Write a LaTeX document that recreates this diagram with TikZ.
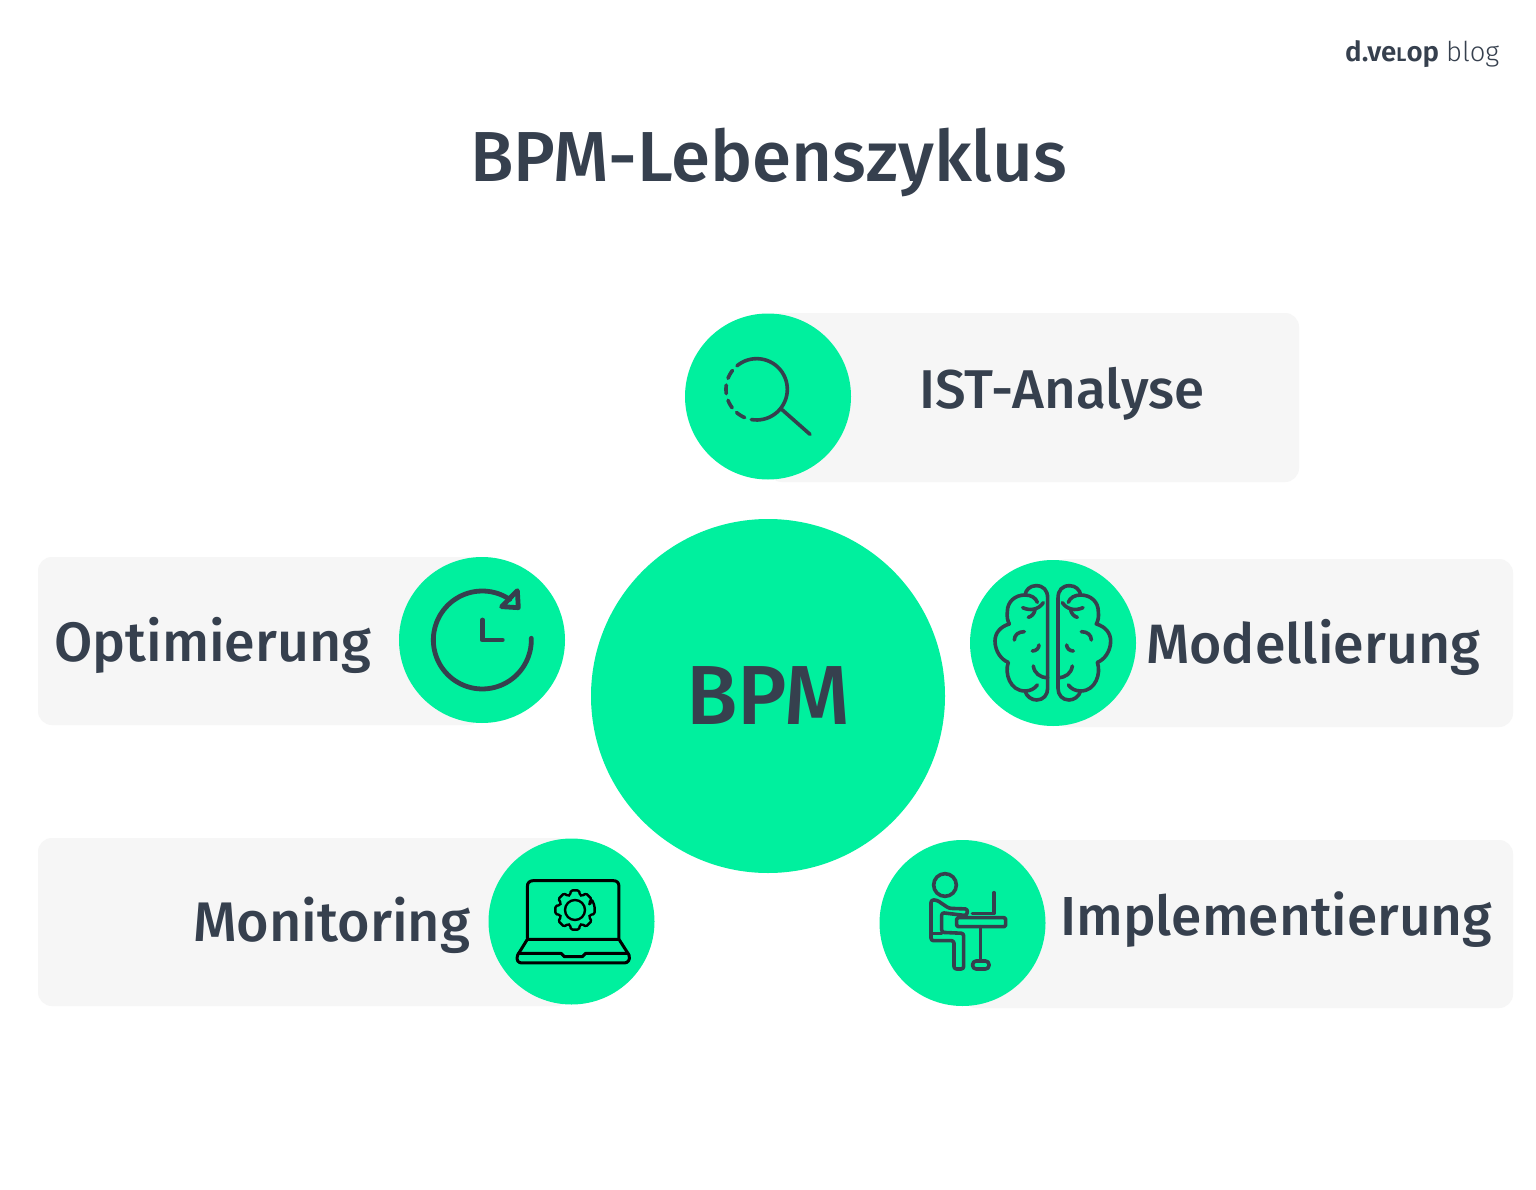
\documentclass[tikz,border=0pt]{standalone}
\usepackage{fontspec}
\setmainfont{Fira Sans Medium}
\newfontfamily\lightfont{Fira Sans Light}
\newfontfamily\boldfont{Fira Sans SemiBold}
\definecolor{mint}{HTML}{00F09E}
\definecolor{cardgray}{HTML}{F6F6F6}
\definecolor{ink}{HTML}{36404E}
\newcommand{\ftext}[3]{\resizebox{#1pt}{!}{\fontsize{#2pt}{#2pt}\selectfont #3}}
\newcommand{\iconarc}[5]{plot[domain=#4:#5,samples=40,smooth] ({#1+#3*cos(\x)},{#2+#3*sin(\x)})}
\tikzset{
  card/.style={fill=cardgray,draw=none,rounded corners=14pt},
  disc/.style={circle,fill=mint,draw=none,minimum size=166pt,inner sep=0pt},
  label/.style={anchor=base west,inner sep=0pt,text=ink},
  icon/.style={x=0.3333pt,y=-0.3333pt,draw=ink,line width=3.6pt,line cap=round,line join=round},
  iconblack/.style={x=0.3333pt,y=-0.3333pt,draw=black,line width=3pt,line cap=round,line join=round},
}
\begin{document}
\begin{tikzpicture}[x=1pt,y=-1pt]
\useasboundingbox (0,0) rectangle (1536,1190);
\fill[white] (0,0) rectangle (1536,1190);
% cards
\fill[card] (768,313) rectangle (1299,482);
\fill[card] (38,557) rectangle (482,725);
\fill[card] (1053,559) rectangle (1513,727);
\fill[card] (38,838) rectangle (571,1006);
\fill[card] (962,840) rectangle (1513,1008);
% discs
\node[circle,fill=mint,minimum size=354pt,inner sep=0pt] (bpmdisc) at (768,696) {};
\node[disc] (istdisc) at (768,396.5) {};
\node[disc] (optdisc) at (482,640) {};
\node[disc] (moddisc) at (1053,643) {};
\node[disc] (mondisc) at (571.5,921.5) {};
\node[disc] (impdisc) at (962.5,923) {};
% texts
\node[label] (title) at (470,182) {\ftext{597}{72}{BPM-Lebenszyklus}};
\node[label] (bpmtext) at (686,724) {\ftext{164}{76}{BPM}};
\node[label] (isttext) at (919,408) {\ftext{285}{52}{IST-Analyse}};
\node[label] (opttext) at (54,661) {\ftext{317}{52}{Optimierung}};
\node[label] (modtext) at (1146,663) {\ftext{334}{52}{Modellierung}};
\node[label] (montext) at (193,941) {\ftext{277}{52}{Monitoring}};
\node[label] (imptext) at (1060,935) {\ftext{432}{52}{Implementierung}};
\node[label] (logoa) at (1345,62) {\ftext{94}{28}{\boldfont d.ve{\fontsize{20pt}{20pt}\selectfont L}op}};
\node[label] (logob) at (1446,62) {\ftext{53}{28}{\lightfont blog}};
% magnifier
\begin{scope}[shift={(690,320)},icon]
\draw \iconarc{200}{208}{92}{230}{460};
\draw \iconarc{200}{208}{92}{201}{218};
\draw \iconarc{200}{208}{92}{172}{188};
\draw \iconarc{200}{208}{92}{143}{159};
\draw \iconarc{200}{208}{92}{113}{131};
\draw (275,268) -- (360,343);
\end{scope}
% clock
\begin{scope}[shift={(400,560)},icon,line width=4.8pt]
\draw \iconarc{247}{240}{147}{-2}{304};
\draw (352,92) -- (355,143) -- (305,140) -- cycle;
\draw (247,180) -- (247,240) -- (307,240);
\end{scope}
% brain
\foreach \tr in {{shift={(0,0)}},{shift={(467,0)},xscale=-1}}{
\begin{scope}[shift={(975,565)},icon]
\begin{scope}[shift={(0,0)}]
\expandafter\tikzset\expandafter{\tr}
\draw (218,100) .. controls (218,75) and (205,62) .. (183,62)
  .. controls (165,62) and (152,75) .. (150,90)
  .. controls (120,90) and (97,110) .. (97,140)
  .. controls (95,155) and (98,168) .. (103,177)
  .. controls (75,185) and (60,205) .. (60,228)
  .. controls (60,260) and (80,285) .. (100,292)
  .. controls (88,325) and (105,378) .. (150,378)
  .. controls (155,395) and (170,405) .. (185,405)
  .. controls (205,405) and (218,390) .. (218,370) -- cycle;
\draw (150,90) .. controls (168,90) and (182,98) .. (187,112);
\draw (143,128) .. controls (165,138) and (190,135) .. (205,113);
\draw (180,135) .. controls (178,145) and (170,155) .. (160,157);
\draw (118,225) .. controls (118,210) and (130,200) .. (148,200);
\draw (192,240) .. controls (192,250) and (183,258) .. (172,258);
\draw (175,303) .. controls (178,325) and (195,338) .. (218,338);
\draw (150,378) .. controls (165,378) and (178,372) .. (187,360);
\end{scope}
\end{scope}
}
% laptop
\begin{scope}[shift={(495,845)},iconblack]
\draw (97,280) -- (97,125) .. controls (97,113) and (104,107) .. (115,107) -- (355,107) .. controls (366,107) and (372,113) .. (372,125) -- (372,280);
\draw (97,283) -- (372,283) -- (402,330) .. controls (407,345) and (398,354) .. (388,354) -- (80,354) .. controls (70,354) and (62,345) .. (68,330) -- cycle;
\draw (70,325) -- (198,325) -- (208,335) -- (262,335) -- (272,325) -- (400,325);
\draw[line width=2.4pt] (240,195) circle[radius=30];
\draw[line width=2.4pt,rounded corners=1.5pt] ({240+60*cos(-33)},{195+60*sin(-33)})
  foreach \a in {0,45,...,315}{
   -- ({240+60*cos(\a-12)},{195+60*sin(\a-12)})
   -- ({240+60*cos(\a+12)},{195+60*sin(\a+12)})
   -- ({240+47*cos(\a+18)},{195+47*sin(\a+18)})
   -- ({240+47*cos(\a+27)},{195+47*sin(\a+27)})
  } -- cycle;
\end{scope}
% person
\begin{scope}[shift={(885,845)},icon]
\draw (180,120) circle[radius=34];
\draw[rounded corners=2.5pt] (245,212) -- (170,203) -- (170,262) -- (236,265) -- (236,372) -- (207,372) -- (207,287) -- (138,287) -- (138,165) -- (155,165) -- (192,190) -- (248,192) -- cycle;
\draw (145,265) -- (170,265);
\draw[rounded corners=1.5pt] (215,218) -- (362,218) -- (362,245) -- (215,245) -- cycle;
\draw (287,245) -- (287,345);
\draw[rounded corners=3.5pt] (263,348) rectangle (312,372);
\draw (327,143) -- (327,205) -- (262,205);
\end{scope}
\end{tikzpicture}
\end{document}
